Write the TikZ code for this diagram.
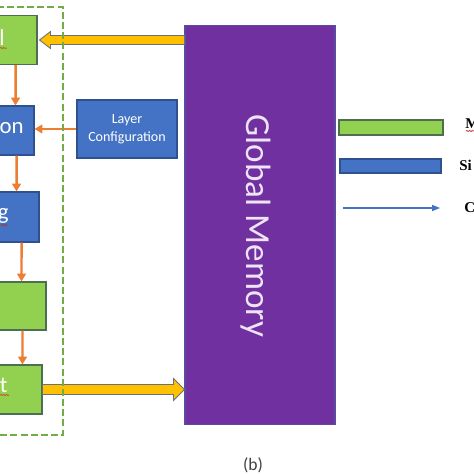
\documentclass[tikz,border=0pt]{standalone}
\usepackage{xcolor}
\usepackage{fontspec}
\setmainfont{Carlito}
\newfontfamily\legfont{Liberation Serif}
\usepackage{tikz}
\usetikzlibrary{arrows.meta,calc,decorations.pathmorphing}

\definecolor{boxgreen}{HTML}{92D050}
\definecolor{greenline}{HTML}{4E6E52}
\definecolor{boxblue}{HTML}{4472C4}
\definecolor{blueline}{HTML}{2F528F}
\definecolor{gmpurple}{HTML}{7030A0}
\definecolor{gmline}{HTML}{5A4AA0}
\definecolor{gmtext}{HTML}{EFE4F7}
\definecolor{flowor}{HTML}{ED7D31}
\definecolor{arrowyel}{HTML}{FFC000}
\definecolor{arrowline}{HTML}{66707E}
\definecolor{dashgreen}{HTML}{70AD47}
\definecolor{squigred}{HTML}{C0504D}

\begin{document}
\begin{tikzpicture}[
			x = 0.02cm, y = -0.02cm,
			box/.style = {draw, line width = 0.6pt, inner sep = 0pt},
			gbox/.style = {box, fill = boxgreen, draw = greenline},
			bbox/.style = {box, fill = boxblue, draw = blueline},
			frag/.style = {text = white, font = \fontsize{13}{15}\selectfont, inner sep = 0pt, anchor = base east},
			flow/.style = {draw = flowor, line width = 1.4pt, -{Triangle[length = 4.5pt, width = 5pt]}},
			legflow/.style = {draw = boxblue, line width = 0.6pt, -{Triangle[length = 4.5pt, width = 3.5pt]}},
			fat/.style = {fill = arrowyel, draw = arrowline, line width = 0.5pt},
			squig/.style = {decorate, decoration = {snake, amplitude = 0.35pt, segment length = 1.6pt}, line width = 0.5pt},
			legtext/.style = {font = \legfont\bfseries\fontsize{8.5}{10}\selectfont, inner sep = 0pt, anchor = base west},
			group/.style = {draw = dashgreen, line width = 1.3pt, dash pattern = on 4pt off 1.8pt}
			]

			\useasboundingbox (0,0) rectangle (474,474);
			\clip (0,0) rectangle (474,474);

			% pipeline on the left
			\node[gbox, minimum width = 1.34cm, minimum height = 0.98cm] (load) at (3.5,40) {};
			\node[bbox, minimum width = 1.28cm, minimum height = 0.98cm] (conv) at (2,130.5) {};
			\node[bbox, minimum width = 1.38cm, minimum height = 1.0cm] (pool) at (4.5,217) {};
			\node[gbox, minimum width = 1.52cm, minimum height = 0.96cm] (act) at (8,306) {};
			\node[gbox, minimum width = 1.44cm, minimum height = 0.98cm] (store) at (6,389.5) {};

			\node[frag] (loadtxt) at (5,45) {l};
			\node[frag] (convtxt) at (24,133) {on};
			\node[frag] (pooltxt) at (9,219) {g};
			\node[frag] (storetxt) at (8,392) {t};
			\draw[squig, draw = flowor!80!black] (0,48) -- (7,48);
			\draw[squig, draw = squigred!80!black] (1,225) -- (8,225);
			\draw[squig, draw = flowor!80!black] (0,395) -- (9,395);

			\node[bbox, minimum width = 2cm, minimum height = 1.16cm, text = white, align = center,
				font = \fontsize{8}{10.2}\selectfont] (lc) at (127,129) {Layer\\Configuration};

			\draw[flow] ($(load.south east)+(-22,0)$) -- ($(conv.north east)+(-19,0)$);
			\draw[flow] ($(conv.south east)+(-18,0)$) -- ($(pool.north east)+(-23,0)$);
			\draw[flow] ($(pool.south east)+(-18,0)$) -- ($(act.north east)+(-25,0)$);
			\draw[flow] ($(act.south east)+(-24,0)$) -- ($(store.north east)+(-20,0)$);
			\draw[flow] (lc.west) -- (lc.west -| conv.east);

			% global memory
			\node[box, fill = gmpurple, draw = gmline, minimum width = 3cm, minimum height = 8cm] (gm) at (260,225) {};
			\node[rotate = -90, text = gmtext, font = \fontsize{20}{24}\selectfont] (gmtxt) at (256,226) {Global Memory};

			\coordinate (gmA) at (gm.west |- load.east);
			\coordinate (gmB) at (gm.west |- store.east);
			\draw[fat] ($(gmA)+(0,-4.5)$) -- ($(load.east)+(13,-4.5)$) -- ($(load.east)+(13,-8.5)$)
				-- ($(load.east)+(2,0)$) -- ($(load.east)+(13,8.5)$) -- ($(load.east)+(13,4.5)$)
				-- ($(gmA)+(0,4.5)$) -- cycle;
			\draw[fat] ($(store.east)+(0,-5)$) -- ($(gmB)+(-11,-5)$) -- ($(gmB)+(-11,-11)$)
				-- (gmB) -- ($(gmB)+(-11,11)$) -- ($(gmB)+(-11,5)$)
				-- ($(store.east)+(0,5)$) -- cycle;

			\draw[group] (-10,7) rectangle (63,435);

			% legend
			\node[gbox, minimum width = 2.08cm, minimum height = 0.3cm] (leggreen) at (391,127.5) {};
			\node[bbox, minimum width = 2.02cm, minimum height = 0.28cm] (legblue) at (390.5,166) {};
			\coordinate (legA) at (343,208);
			\coordinate (legB) at (440,208);
			\draw[legflow] (legA) -- (legB);
			\node[legtext] (legM) at (465,128) {M};
			\node[legtext] (legS) at (459,170) {Si};
			\node[legtext] (legC) at (464,212) {C};
			\draw[squig, draw = squigred] (466,131) -- (474,131);

			\node[text = black!75, font = \fontsize{10}{12}\selectfont] (cap) at (253,465) {(b)};

		\end{tikzpicture}
\end{document}
